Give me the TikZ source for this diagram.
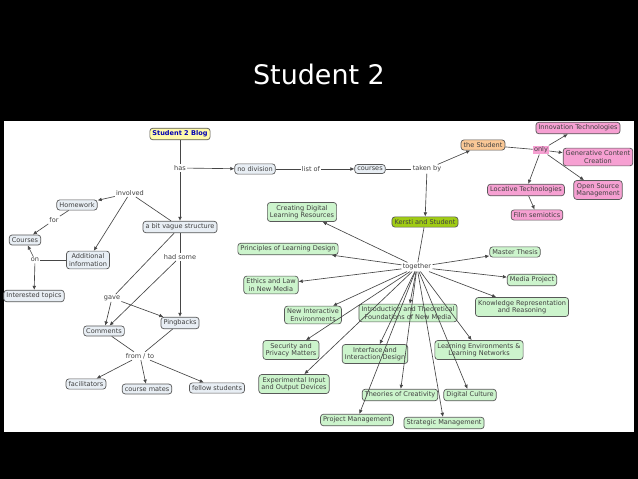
\documentclass[tikz,border=0pt]{standalone}
\usepackage{fontspec}
\setmainfont{DejaVu Sans}
\usetikzlibrary{arrows.meta}
\definecolor{cbox}{RGB}{232,238,244}
\definecolor{cgreen}{RGB}{204,244,204}
\definecolor{cpink}{RGB}{246,160,210}
\definecolor{corange}{RGB}{250,200,150}
\definecolor{colive}{RGB}{160,204,20}
\definecolor{cyell}{RGB}{255,250,170}
\tikzset{
  box/.style={rectangle,rounded corners=2.5pt,draw=gray!70!black,line width=0.6pt,fill=cbox,align=center,inner sep=2.2pt,font=\fontsize{5.6}{6.4}\selectfont,text=black!75},
  green/.style={box,fill=cgreen},
  pink/.style={box,fill=cpink},
  lbl/.style={fill=white,inner sep=1pt,font=\fontsize{5.6}{6.4}\selectfont,text=black!75},
  ln/.style={draw=gray!55!black,line width=0.55pt},
  arr/.style={ln,-{Latex[length=3.5pt,width=3.2pt]}}
}
\begin{document}
\begin{tikzpicture}[x=0.03cm,y=-0.03cm]
\fill[black] (0,0) rectangle (638,479);
\fill[white] (4,121) rectangle (634,432);
\node[text=white,font=\fontsize{23}{26}\selectfont] (title) at (319,74) {Student 2};
% left part
\node (blog) at (180,134) [box,fill=cyell,text=blue!70!black,font=\fontsize{5.6}{6.4}\selectfont\bfseries] {Student 2 Blog};
\node (has) at (180,168) [lbl] {has};
\node (nodiv) at (255,169) [box] {no division};
\node (listof) at (311,169) [lbl] {list of};
\node (courses) at (370,169) [box] {courses};
\node (taken) at (427,169) [lbl] {taken by};
\node (vague) at (180,227) [box] {a bit vague structure};
\node (involved) at (130,193) [lbl] {involved};
\node (homework) at (77,205) [box] {Homework};
\node (for) at (54,220) [lbl] {for};
\node (Courses) at (25,240) [box] {Courses};
\node (on) at (35,260) [lbl] {on};
\node (addinfo) at (88,260) [box] {Additional\\information};
\node (topics) at (34,296) [box] {Interested topics};
\node (hadsome) at (180,257) [lbl] {had some};
\node (gave) at (112,298) [lbl] {gave};
\node (comments) at (104,331) [box] {Comments};
\node (pingbacks) at (180,323) [box] {Pingbacks};
\node (fromto) at (140,356) [lbl] {from / to};
\node (facil) at (86,384) [box] {facilitators};
\node (mates) at (147,389) [box] {course mates};
\node (fellow) at (217,388) [box] {fellow students};
% right part
\node (student) at (483,145) [box,fill=corange] {the Student};
\node (only) at (541,150) [lbl,fill=cpink] {only};
\node (innov) at (578,128) [pink] {Innovation Technologies};
\node (gencont) at (598,157) [pink] {Generative Content\\Creation};
\node (opensrc) at (598,190) [pink] {Open Source\\Management};
\node (locative) at (526,190) [pink] {Locative Technologies};
\node (film) at (537,215) [pink] {Film semiotics};
\node (kersti) at (425,222) [box,fill=colive] {Kersti and Student};
\node (together) at (417,267) [lbl] {together};
\node (creating) at (302,212) [green] {Creating Digital\\Learning Resources};
\node (principles) at (288,249) [green] {Principles of Learning Design};
\node (ethics) at (271,285) [green] {Ethics and Law\\in New Media};
\node (newint) at (313,315) [green] {New Interactive\\Environments};
\node (intro) at (408,313) [green] {Introduction and Theoretical\\Foundations of New Media};
\node (security) at (291,350) [green] {Security and\\Privacy Matters};
\node (interface) at (375,354) [green] {Interface and\\Interaction Design};
\node (experim) at (294,384) [green] {Experimental Input\\and Output Devices};
\node (theories) at (400,395) [green] {Theories of Creativity};
\node (digcult) at (470,395) [green] {Digital Culture};
\node (projman) at (357,420) [green] {Project Management};
\node (stratman) at (444,423) [green] {Strategic Management};
\node (learnenv) at (479,350) [green] {Learning Environments \&\\Learning Networks};
\node (thesis) at (515,252) [green] {Master Thesis};
\node (mediapr) at (532,280) [green] {Media Project};
\node (knowrep) at (522,307) [green] {Knowledge Representation\\and Reasoning};
% connectors
\draw[ln] (blog) -- (has);
\draw[arr] (has) -- (vague);
\draw[arr] (has) -- (nodiv);
\draw[ln] (nodiv) -- (listof);
\draw[arr] (listof) -- (courses);
\draw[ln] (courses) -- (taken);
\draw[arr] (taken) -- (student);
\draw[arr] (taken) -- (kersti);
\draw[ln] (student) -- (only);
\foreach \t in {innov,gencont,opensrc,locative} \draw[arr] (only) -- (\t);
\draw[arr] (locative) -- (film);
\draw[ln] (kersti) -- (together);
\foreach \t in {creating,principles,ethics,newint,intro,security,interface,experim,theories,digcult,projman,stratman,learnenv,thesis,mediapr,knowrep}
  \draw[arr] (together) -- (\t);
\draw[ln] (vague) -- (involved);
\draw[arr] (involved) -- (homework);
\draw[arr] (involved) -- (addinfo);
\draw[ln] (homework) -- (for);
\draw[arr] (for) -- (Courses);
\draw[ln] (addinfo) -- (on);
\draw[arr] (on) -- (Courses);
\draw[arr] (on) -- (topics);
\draw[ln] (vague) -- (hadsome);
\draw[arr] (hadsome) -- (pingbacks);
\draw[arr] (hadsome) -- (comments);
\draw[ln] (vague) -- (gave);
\draw[arr] (gave) -- (comments);
\draw[arr] (gave) -- (pingbacks);
\draw[ln] (comments) -- (fromto);
\draw[ln] (pingbacks) -- (fromto);
\foreach \t in {facil,mates,fellow} \draw[arr] (fromto) -- (\t);
\end{tikzpicture}
\end{document}
